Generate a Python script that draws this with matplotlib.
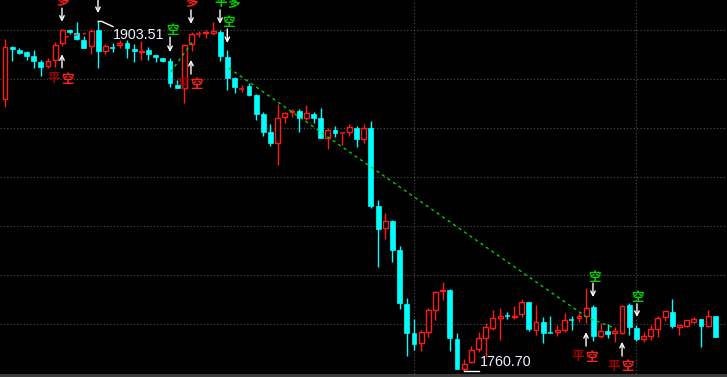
import matplotlib
matplotlib.use('Agg')
import matplotlib.pyplot as plt
from matplotlib.patches import Rectangle

# ---------------- data (OHLC per bar) ----------------
opens = [1871.71, 1893.18, 1891.96, 1891.14, 1889.39, 1886.94, 1885.18, 1887.63, 1894.57, 1900.12,
         1898.65, 1895.92, 1893.27, 1899.80, 1891.63, 1893.06, 1893.75, 1894.82, 1892.12, 1891.02,
         1891.84, 1889.80, 1888.69, 1887.47, 1877.55, 1876.33, 1894.16, 1898.24, 1898.65, 1898.78,
         1899.31, 1889.10, 1880.29, 1875.92, 1877.14, 1873.47, 1865.71, 1858.24, 1854.00, 1864.61,
         1866.41, 1866.94, 1863.96, 1865.59, 1863.96, 1856.04, 1859.18, 1857.67, 1858.24, 1860.00,
         1855.39, 1860.00, 1828.16, 1819.31, 1822.04, 1810.20, 1788.16, 1776.45, 1772.37, 1776.86,
         1785.71, 1793.35, 1793.88, 1773.88, 1761.76, 1764.37, 1769.67, 1774.41, 1778.49, 1782.57,
         1783.39, 1782.73, 1784.08, 1788.86, 1777.55, 1780.94, 1776.61, 1776.61, 1777.55, 1782.04,
         1782.33, 1783.27, 1786.82, 1775.22, 1777.14, 1776.20, 1776.45, 1787.76, 1778.24, 1773.88,
         1775.22, 1777.96, 1782.73, 1784.78, 1778.90, 1779.31, 1780.94, 1782.04, 1779.31, 1783.39]
highs = [1896.33, 1893.59, 1892.53, 1891.55, 1891.96, 1887.63, 1888.45, 1894.98, 1900.41, 1900.53,
         1903.30, 1897.55, 1900.33, 1903.51, 1894.37, 1894.82, 1895.92, 1895.92, 1894.29, 1895.63,
         1893.18, 1889.80, 1888.69, 1888.45, 1879.59, 1894.29, 1899.31, 1899.71, 1900.00, 1903.27,
         1900.00, 1891.84, 1880.94, 1877.55, 1878.24, 1873.88, 1866.65, 1861.63, 1869.80, 1866.65,
         1867.76, 1867.76, 1869.39, 1866.65, 1868.04, 1859.88, 1860.82, 1858.24, 1861.63, 1860.82,
         1861.63, 1862.86, 1830.61, 1825.18, 1822.45, 1811.84, 1790.49, 1782.04, 1777.35, 1786.41,
         1793.47, 1797.14, 1794.29, 1776.45, 1765.71, 1771.02, 1776.86, 1780.29, 1785.71, 1786.41,
         1785.02, 1787.35, 1790.08, 1788.86, 1787.76, 1782.98, 1783.27, 1779.59, 1784.37, 1783.39,
         1784.61, 1794.57, 1787.76, 1780.29, 1780.00, 1778.65, 1787.76, 1788.45, 1779.59, 1776.86,
         1779.59, 1783.27, 1785.31, 1790.20, 1779.59, 1781.63, 1782.98, 1782.04, 1785.71, 1783.39]
lows = [1868.69, 1887.47, 1890.20, 1887.88, 1884.61, 1881.22, 1884.37, 1884.78, 1893.59, 1898.24,
        1895.92, 1892.53, 1890.12, 1884.37, 1890.33, 1891.14, 1892.53, 1888.45, 1887.06, 1887.76,
        1887.76, 1887.06, 1887.06, 1876.61, 1876.20, 1870.08, 1891.43, 1897.27, 1896.61, 1897.96,
        1887.47, 1875.51, 1874.41, 1874.57, 1873.06, 1863.27, 1856.73, 1852.65, 1844.90, 1862.16,
        1864.61, 1858.49, 1863.27, 1861.92, 1855.80, 1851.31, 1856.45, 1853.06, 1856.86, 1852.37,
        1854.00, 1827.47, 1803.39, 1814.57, 1805.43, 1786.00, 1766.94, 1769.39, 1769.10, 1774.82,
        1781.63, 1789.80, 1769.10, 1761.50, 1760.70, 1763.96, 1768.69, 1766.65, 1777.55, 1773.47,
        1781.92, 1781.92, 1782.73, 1777.14, 1775.51, 1772.37, 1776.20, 1775.22, 1776.61, 1777.55,
        1780.94, 1780.29, 1773.18, 1774.16, 1774.41, 1772.78, 1775.92, 1775.51, 1773.06, 1772.53,
        1773.47, 1774.82, 1781.35, 1778.24, 1775.51, 1778.90, 1780.29, 1770.73, 1778.65, 1774.82]
closes = [1892.94, 1892.37, 1890.73, 1889.51, 1887.47, 1884.90, 1887.35, 1893.75, 1900.00, 1899.06,
          1896.20, 1892.78, 1899.71, 1891.55, 1893.47, 1892.65, 1894.82, 1892.53, 1891.55, 1891.55,
          1890.08, 1888.86, 1887.47, 1878.24, 1876.45, 1893.88, 1898.24, 1898.65, 1899.18, 1899.39,
          1889.39, 1880.53, 1876.86, 1876.20, 1873.47, 1865.59, 1858.49, 1854.00, 1863.96, 1866.00,
          1866.94, 1863.96, 1866.00, 1864.20, 1856.04, 1859.18, 1858.08, 1858.08, 1860.29, 1855.39,
          1859.88, 1828.16, 1818.90, 1822.04, 1810.20, 1788.45, 1776.45, 1771.84, 1776.86, 1785.71,
          1792.94, 1794.00, 1774.41, 1761.63, 1763.55, 1769.39, 1774.16, 1778.65, 1782.33, 1783.27,
          1783.14, 1783.27, 1788.86, 1777.96, 1780.94, 1776.45, 1776.20, 1777.55, 1781.63, 1781.63,
          1783.27, 1786.41, 1775.10, 1777.14, 1775.92, 1777.27, 1787.35, 1778.65, 1773.88, 1775.10,
          1777.84, 1782.33, 1785.31, 1779.31, 1779.59, 1781.63, 1782.04, 1779.31, 1783.27, 1774.82]

price_grid = [1780, 1800, 1820, 1840, 1860, 1880, 1900]
session_marks = [57, 88]          # bar indices carrying a vertical dotted separator

high_label = "1903.51"
low_label = "1760.70"
high_bar = 13
low_bar = 64

# trend lines: (bar index, price) vertices
trend_down_x = [31.2, 81.25, 84.6]
trend_down_y = [1884.49, 1782.45, 1778.78]
trend_up_x = [23.1, 26.2]
trend_up_y = [1882.9, 1895.5]
red_dash_x = [8.5, 11.6]
red_dash_y = [1897.1, 1898.8]

# signal labels: (text, bar pos, price, colour)
signal_texts = [
    ("多", 8.08, 1911.6, "#ff2020"),
    ("平", 6.83, 1880.1, "#a00000"), ("空", 8.64, 1880.0, "#ff2020"),
    ("空", 23.35, 1899.7, "#00d000"),
    ("多", 26.06, 1911.4, "#ff2020"),
    ("平", 24.74, 1877.8, "#a00000"), ("空", 26.62, 1877.8, "#ff2020"),
    ("平", 30.1, 1911.4, "#00d000"), ("多", 31.92, 1911.0, "#00d000"),
    ("空", 31.15, 1903.1, "#00d000"),
    ("空", 82.16, 1799.0, "#00d000"),
    ("平", 79.79, 1766.9, "#a00000"), ("空", 81.67, 1766.5, "#ff2020"),
    ("空", 88.08, 1790.8, "#00d000"),
    ("平", 84.88, 1762.5, "#a00000"), ("空", 86.69, 1762.5, "#ff2020"),
]
# arrows: (bar pos, tail price, tip price)
signal_arrows = [
    (7.94, 1908.9, 1903.4), (7.94, 1884.6, 1890.1),
    (12.96, 1913.5, 1906.9),
    (23.0, 1897.1, 1891.0),
    (25.92, 1908.2, 1902.5), (25.92, 1882.0, 1887.8),
    (29.97, 1908.2, 1902.5), (30.98, 1900.4, 1894.7),
    (81.95, 1796.7, 1791.0), (80.98, 1771.0, 1776.7),
    (88.08, 1788.2, 1782.9), (86.0, 1766.9, 1772.7),
]

# ---------------- figure ----------------
W, H = 727, 377
fig = plt.figure(figsize=(W / 100, H / 100), dpi=100, facecolor='black')
ax = fig.add_axes([0, 0, 1, 1], facecolor='black')
n = len(opens)
px_per_bar = 7.175
x0 = -5 / px_per_bar
ax.set_xlim(x0, x0 + W / px_per_bar)
ppx = 20 / 49.0
ytop = 1900 + 30 * ppx
ax.set_ylim(ytop - H * ppx, ytop)

for s in ax.spines.values():
    s.set_visible(False)
ax.set_yticks(price_grid)
ax.set_xticks(session_marks)
ax.tick_params(length=0, labelleft=False, labelbottom=False)
ax.grid(True, color='#505050', linestyle=(0, (1, 2)), linewidth=0.8)
ax.set_axisbelow(True)

RED = '#ff1a1a'
CYAN = '#00ffff'
bw = 0.68
for i in range(n):
    o, h, l, c = opens[i], highs[i], lows[i], closes[i]
    if c >= o:
        top, bot = c, o
        ax.vlines(i, top, h, color=RED, lw=1, zorder=3)
        ax.vlines(i, l, bot, color=RED, lw=1, zorder=3)
        if top - bot < 0.45:
            ax.hlines((top + bot) / 2, i - bw / 2, i + bw / 2, color=RED, lw=1.1, zorder=3)
        else:
            ax.add_patch(Rectangle((i - bw / 2, bot), bw, top - bot, facecolor='black',
                                   edgecolor=RED, lw=1, zorder=4))
    else:
        top, bot = o, c
        ax.vlines(i, l, h, color=CYAN, lw=1, zorder=3)
        if top - bot < 0.45:
            ax.hlines((top + bot) / 2, i - bw / 2, i + bw / 2, color=CYAN, lw=1.1, zorder=3)
        else:
            ax.add_patch(Rectangle((i - bw / 2, bot), bw, top - bot, facecolor=CYAN,
                                   edgecolor=CYAN, lw=0.5, zorder=4))

# trend lines
ax.plot(trend_down_x, trend_down_y, color='#00d000', lw=1, linestyle=(0, (2.2, 2.6)), zorder=5)
ax.plot(trend_up_x, trend_up_y, color='#00d000', lw=1, linestyle=(0, (2.2, 2.6)), zorder=5)
ax.plot(red_dash_x, red_dash_y, color=RED, lw=1, linestyle=(0, (2.2, 4)), zorder=5)

# high / low labels
hx = high_bar
ax.plot([hx, hx + 0.45, hx + 2.05], [highs[hx], highs[hx], highs[hx] - 2.1],
        color='white', lw=1, zorder=6)
ax.text(hx + 2.1, highs[hx] - 5.7, high_label, color='#f0f4ff', fontsize=10.3,
        family='Liberation Sans', va='center', ha='left', zorder=7)
lx = low_bar
ax.plot([lx, lx + 2.05], [lows[lx], lows[lx]], color='white', lw=1, zorder=6)
ax.text(lx + 2.2, lows[lx] + 3.8, low_label, color='#f0f4ff', fontsize=10.3,
        family='Liberation Sans', va='center', ha='left', zorder=7)

# signals
for t, xx, yy, col in signal_texts:
    ax.text(xx, yy, t, color=col, fontsize=9, fontweight='bold',
            family=['Noto Sans CJK SC', 'DejaVu Sans'], ha='center', va='center', zorder=8)
for xx, ya, yb in signal_arrows:
    ax.annotate('', xy=(xx, yb), xytext=(xx, ya),
                arrowprops=dict(arrowstyle='->', color='white', lw=1, mutation_scale=8,
                                shrinkA=0, shrinkB=0), zorder=8)

# bottom strip
fig.patches.append(Rectangle((0, 0), 1, 3 / H, transform=fig.transFigure,
                             facecolor='#3c3c3c', edgecolor='none'))

fig.savefig('out.png', dpi=100, facecolor='black')
